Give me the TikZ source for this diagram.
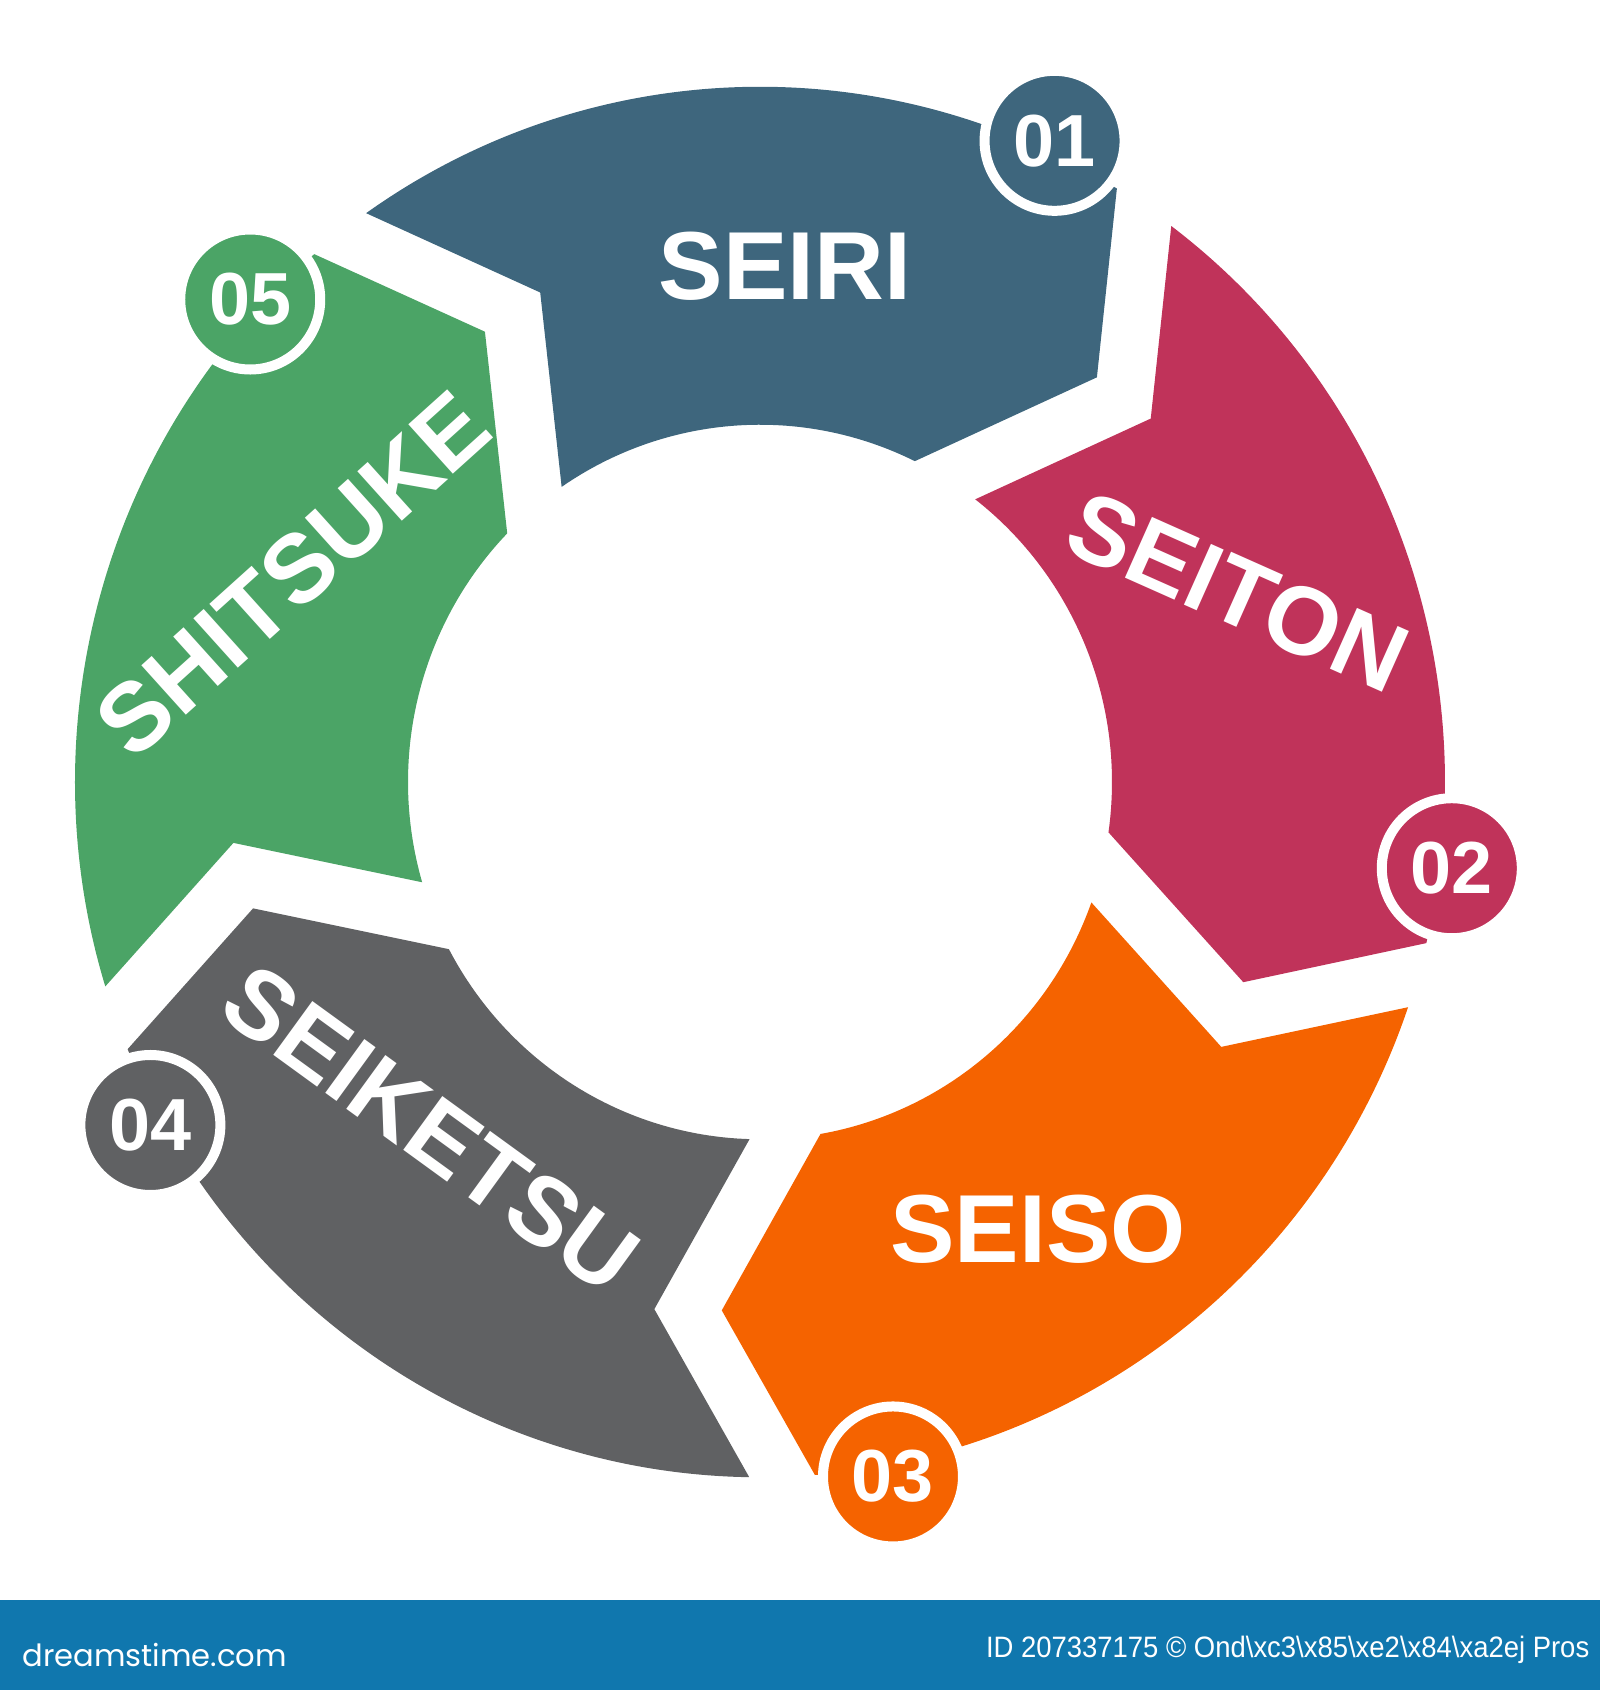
\documentclass[tikz,border=0pt]{standalone}
\usepackage{fontspec}
\setmainfont{Liberation Sans}
\newfontfamily\brandfont{Poppins}
\usepackage{graphicx}
\definecolor{seiriblue}{RGB}{62,102,125}
\definecolor{seitonred}{RGB}{192,51,90}
\definecolor{seisoorange}{RGB}{245,99,0}
\definecolor{seiketsugray}{RGB}{96,97,99}
\definecolor{shitsukegreen}{RGB}{75,164,102}
\definecolor{barblue}{RGB}{16,119,174}
\tikzset{
    numdisk/.style={circle, draw=white, line width=1mm, minimum size=14mm, inner sep=0pt, text=white, font=\fontsize{21}{21}\selectfont\bfseries}, % numbered disk
    steplabel/.style={text=white, inner sep=0pt, font=\fontsize{27.5}{28}\selectfont\bfseries} % name of each step
}
\begin{document}
\begin{tikzpicture}[x=0.1mm, y=0.1mm]
    \def\rout{685} \def\rin{352}
    \useasboundingbox (-760,-908) rectangle (840,782);

    % ring of five arrows, clockwise
    \begin{scope}[yscale=1.015]
        \foreach \k/\col/\num in {0/seiriblue/01, 1/seitonred/02, 2/seisoorange/03, 3/seiketsugray/04, 4/shitsukegreen/05} {
            \fill[\col] (125.1-72*\k:\rout) arc[start angle=125.1-72*\k, end angle=58.6-72*\k, radius=\rout]
                -- (49.8-72*\k:522) -- (63.9-72*\k:\rin)
                arc[start angle=63.9-72*\k, end angle=124.3-72*\k, radius=\rin]
                -- (114.5-72*\k:530) -- cycle;
            \node[numdisk, fill=\col] (num\k) at (65-72*\k:697) {\num};
        }
    \end{scope}

    \foreach \k/\lab/\lx/\ly/\rot in {0/SEIRI/25/516/0, 1/SEITON/478/190/-24, 2/SEISO/278/-447/0, 3/SEIKETSU/-329/-347/-36, 4/SHITSUKE/-467/208/42} {
        \node[steplabel, rotate=\rot] (lab\k) at (\lx,\ly) {\lab};
    }

    % footer bar
    \fill[barblue] (-760,-908) rectangle (840,-818);
    \node[text=white, anchor=base west, inner sep=0pt, font=\brandfont\fontsize{8.7}{9}\selectfont] (brand) at (-738,-884) {dreamstime.com};
    \node[text=white, anchor=base east, inner sep=0pt, font=\fontsize{8.4}{9}\selectfont] (imgid) at (830,-875) {\scalebox{0.93}[1]{ID 207337175 \textcopyright{} Ond\textbackslash xc3\textbackslash x85\textbackslash xe2\textbackslash x84\textbackslash xa2ej Pros}};
\end{tikzpicture}
\end{document}
